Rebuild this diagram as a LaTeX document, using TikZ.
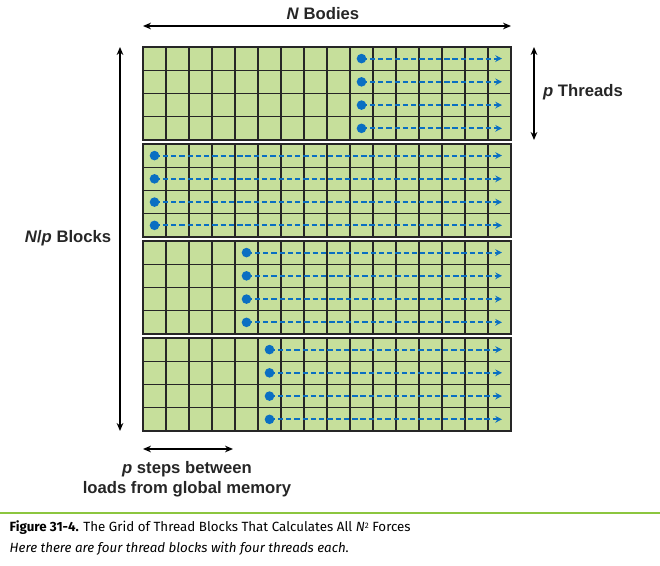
\documentclass[tikz,border=0pt]{standalone}
\usepackage{fontspec}
\setmainfont{Liberation Sans}
\newfontfamily\capfont{Fira Sans}
\usetikzlibrary{arrows.meta}
\definecolor{cellgreen}{HTML}{C6DF9B}
\definecolor{dotblue}{HTML}{0A6FC2}
\definecolor{rulegreen}{HTML}{8CC63F}
\tikzset{
  lbl/.style={font=\fontsize{12.5}{15}\selectfont\bfseries, text=black!85},
  dim/.style={{Stealth[length=6pt,width=5pt]}-{Stealth[length=6pt,width=5pt]}, line width=1.3pt},
  cellline/.style={line width=0.9pt, black!85},
  blockline/.style={line width=1.9pt, black!85},
  thread/.style={dotblue, line width=1.4pt, dash pattern=on 4pt off 2.2pt, -{Stealth[length=5pt,width=5pt]}},
}
\begin{document}
\begin{tikzpicture}[x=0.75pt,y=-0.75pt]
\useasboundingbox (0,0) rectangle (660,566);
\foreach \b/\s in {0/9,1/0,2/4,3/5}{
  \pgfmathsetmacro{\ytop}{47+97*\b}
  \fill[cellgreen] (143,\ytop) rectangle (511,\ytop+93);
  \foreach \c in {1,2,3,5,6,7,9,10,11,13,14,15}
    \draw[cellline] (143+23*\c,\ytop) -- (143+23*\c,\ytop+93);
  \foreach \r in {1,2,3}
    \draw[cellline] (143,\ytop+23.25*\r) -- (511,\ytop+23.25*\r);
  \foreach \c in {4,8,12}
    \draw[line width=1.5pt, black!85] (143+23*\c,\ytop) -- (143+23*\c,\ytop+93);
  \draw[blockline] (143,\ytop) rectangle (511,\ytop+93);
  \foreach \r in {0,1,2,3}{
    \coordinate (s\b\r) at (154.5+23*\s,\ytop+11.6+23.25*\r);
    \coordinate (e\b\r) at (502,\ytop+11.6+23.25*\r);
    \draw[thread] (s\b\r) -- (e\b\r);
    \fill[dotblue] (s\b\r) circle[radius=4.8];
  }
}
\coordinate (nb1) at (143,26); \coordinate (nb2) at (511,26);
\draw[dim] (nb1) -- (nb2);
\node[lbl] (nbodies) at (323,14) {\textit{N} Bodies};
\coordinate (pt1) at (534,47); \coordinate (pt2) at (534,140);
\draw[dim] (pt1) -- (pt2);
\node[lbl] (pthreads) at (583,92) {\textit{p} Threads};
\coordinate (bl1) at (120,47); \coordinate (bl2) at (120,431);
\draw[dim] (bl1) -- (bl2);
\node[lbl] (npb) at (68,238) {\textit{N}/\textit{p} Blocks};
\coordinate (ps1) at (143,449); \coordinate (ps2) at (233,449);
\draw[dim] (ps1) -- (ps2);
\node[lbl, align=center] (psteps) at (187,479) {\textit{p} steps between\\loads from global memory};
\draw[rulegreen, line width=1.6pt] (0,513) -- (660,513);
\node[anchor=west, font=\capfont\fontsize{10}{12}\selectfont] (cap1) at (5,528) {\textbf{Figure 31-4.} The Grid of Thread Blocks That Calculates All \textit{N}\raisebox{0.5ex}{\fontsize{6}{7}\selectfont 2} Forces};
\node[anchor=west, font=\capfont\fontsize{10}{12}\selectfont\itshape] (cap2) at (5,549) {Here there are four thread blocks with four threads each.};
\end{tikzpicture}
\end{document}
